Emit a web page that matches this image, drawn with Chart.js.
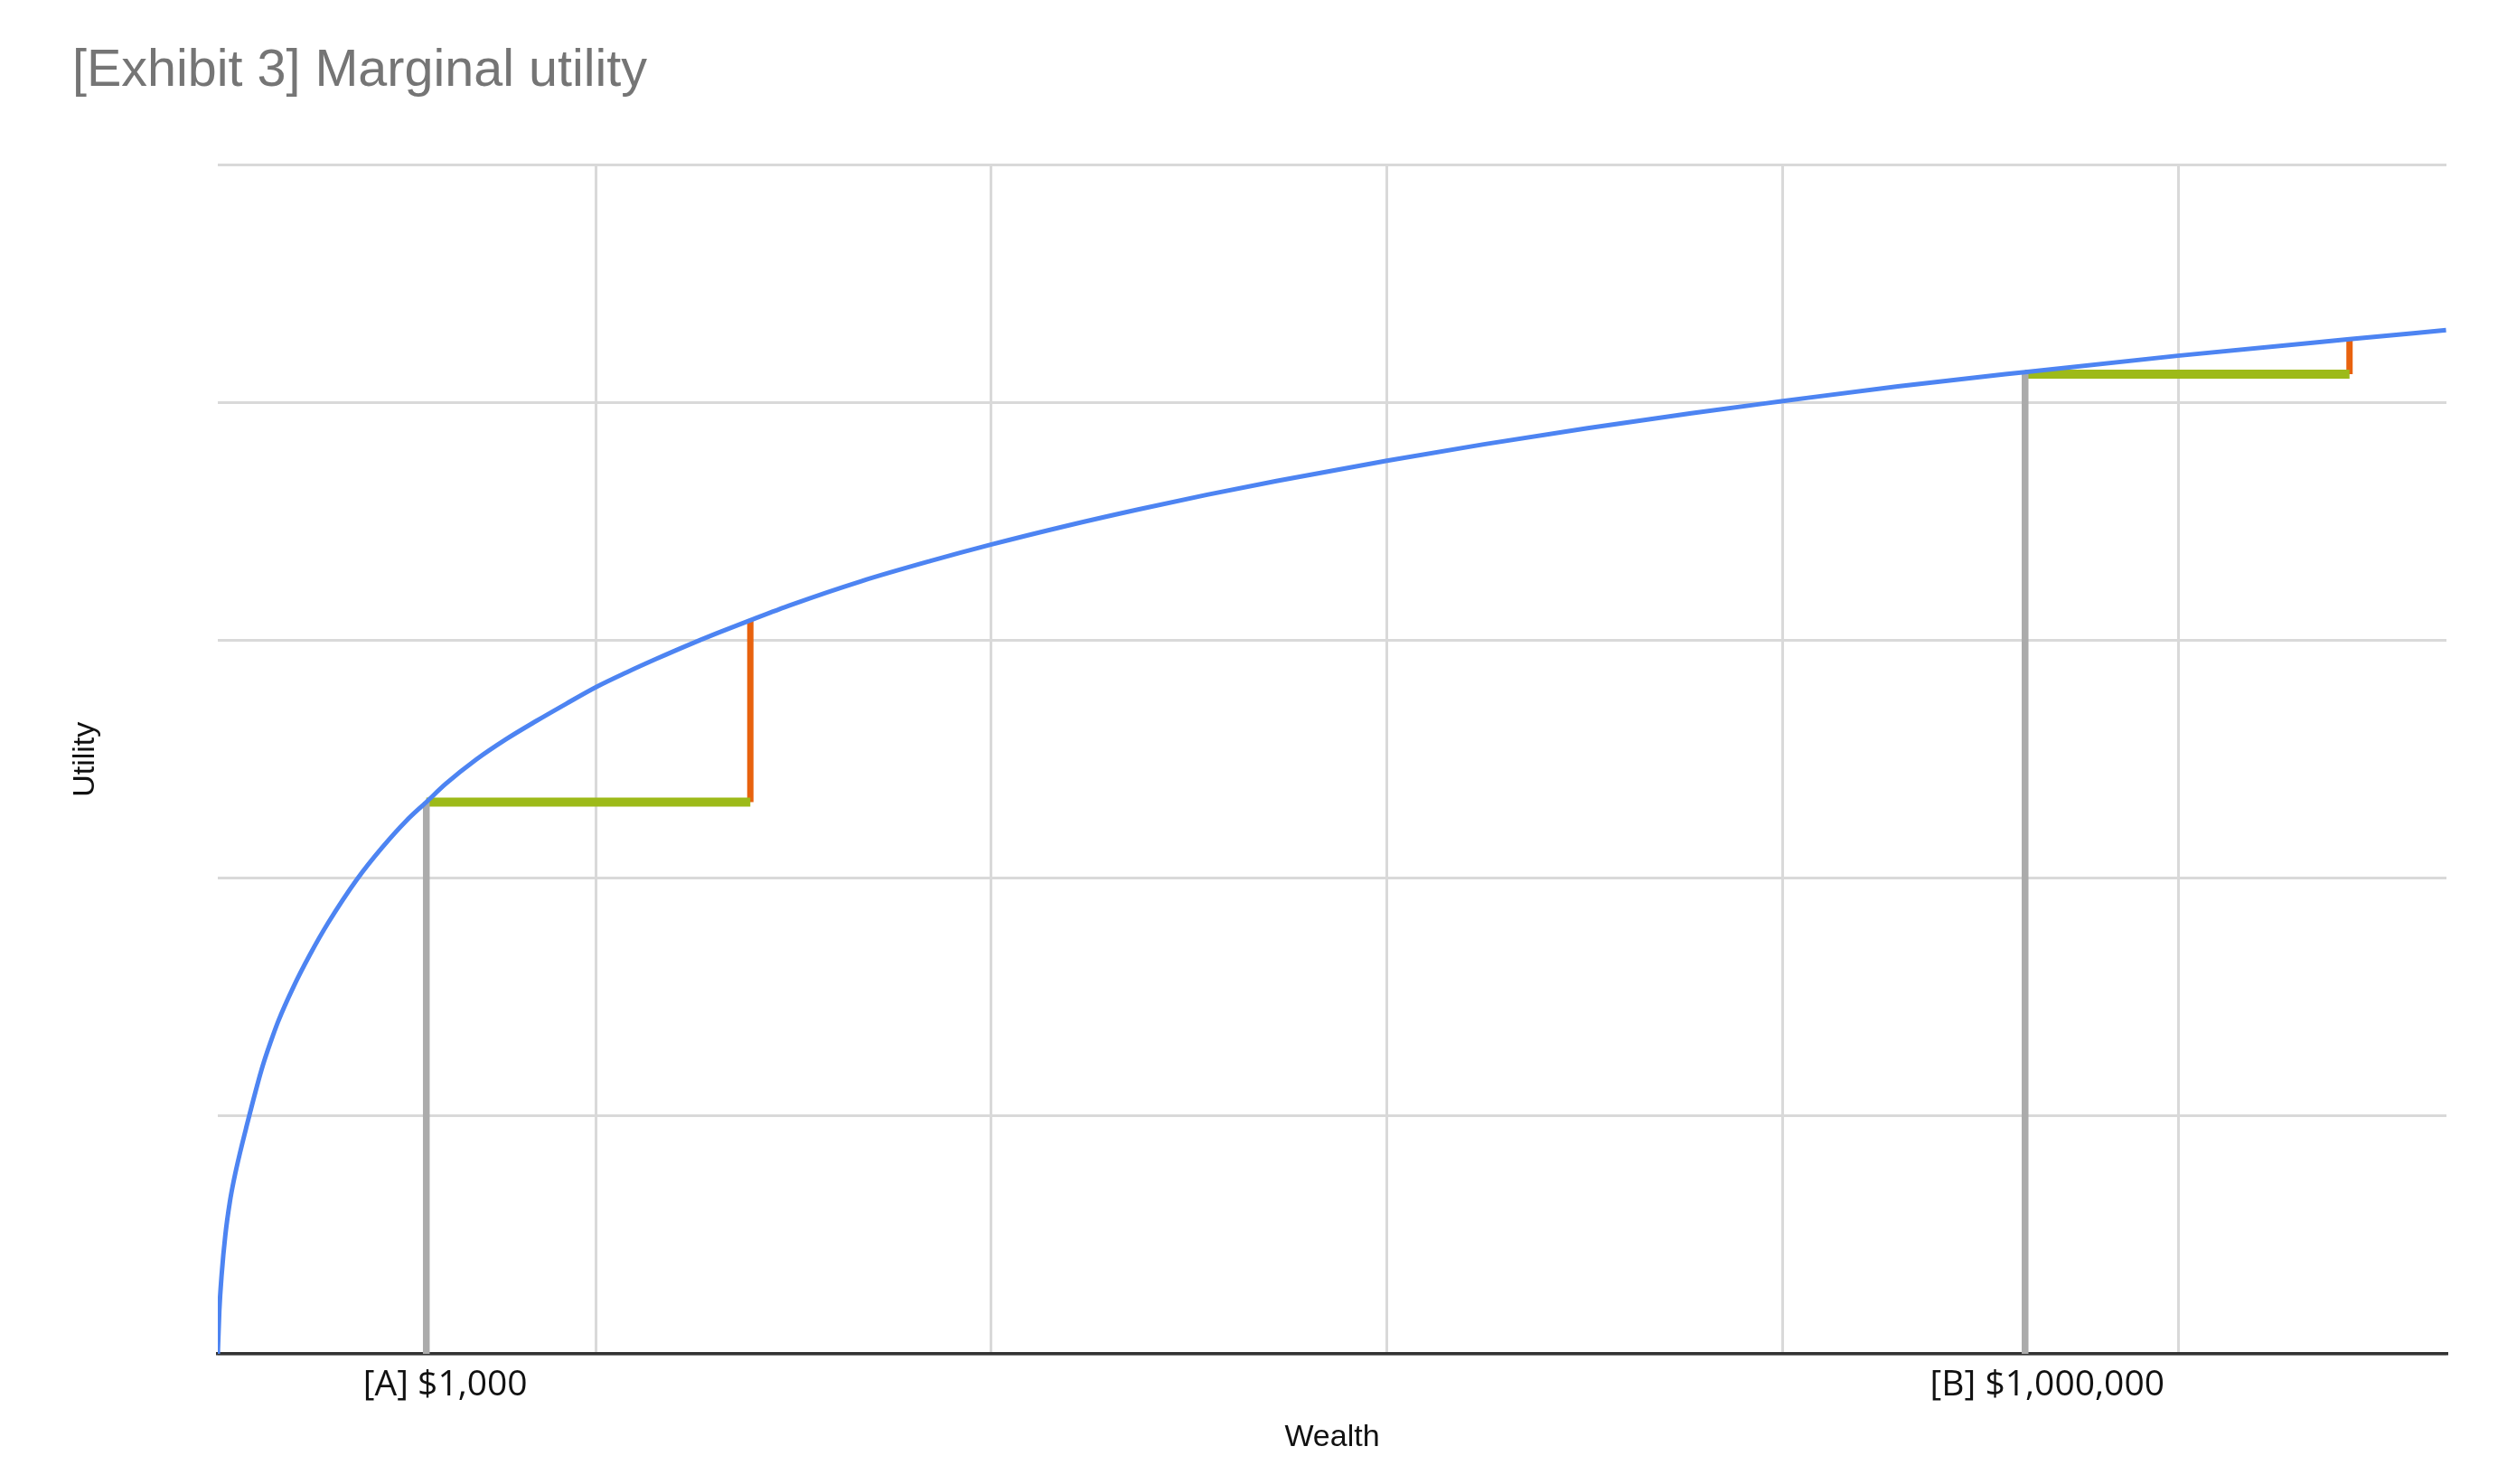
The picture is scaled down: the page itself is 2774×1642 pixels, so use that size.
<!DOCTYPE html>
<html>
<head>
<meta charset="utf-8">
<title>[Exhibit 3] Marginal utility</title>
<script src="https://cdn.jsdelivr.net/npm/chart.js@4.4.1/dist/chart.umd.min.js"></script>
<style>
  html, body { margin: 0; padding: 0; background: #ffffff; }
  canvas { display: block; }
</style>
</head>
<body>
<canvas id="c" width="2774" height="1642"></canvas>
<script>
// ---- Data ----
// Wealth axis in arbitrary index units (10 units between vertical gridlines)
const wealthX = [0, 0.039, 0.098, 0.19, 0.304, 0.418, 0.571, 0.724, 0.989, 1.142, 1.348, 1.524, 1.903, 2.323, 2.78, 3.525, 4.151, 4.758, 5.27, 5.764, 6.527, 7.287, 8.048, 8.811, 9.572, 10.333, 11.095, 11.856, 12.617, 13.455, 14.517, 16.265, 18.015, 19.536, 21.51, 23.26, 25.008, 26.755, 29.553, 32.0, 34.622, 37.245, 39.518, 42.467, 45.679, 49.537, 53.88, 56.32];
const utilityY = [0, 0.365, 0.669, 0.998, 1.277, 1.48, 1.705, 1.91, 2.25, 2.43, 2.635, 2.795, 3.08, 3.354, 3.62, 3.995, 4.258, 4.482, 4.641, 4.795, 4.998, 5.17, 5.323, 5.469, 5.61, 5.732, 5.847, 5.957, 6.061, 6.17, 6.303, 6.499, 6.669, 6.806, 6.969, 7.102, 7.226, 7.341, 7.512, 7.65, 7.786, 7.912, 8.012, 8.138, 8.258, 8.395, 8.534, 8.61];

// Points A ($1,000) and B ($1,000,000)
const markerNames = ['[A] $1,000', '[B] $1,000,000'];
const markerX = [5.27, 45.68];      // wealth at A, B
const markerU = [4.64, 8.24];       // utility at A, B
const stepX = [13.46, 53.88];       // wealth after the same increase
const stepU = [6.17, 8.53];         // utility after the increase

// Axis ticks
const xGridTicks = [9.55, 19.55, 29.55, 39.55, 49.55];
const xLabelTicks = [5.75, 46.24];
const xLabels = markerNames;
const xMin = 0, xMax = 56.33;
const yMin = 0, yMax = 10, yStep = 2;

// ---- Build datasets ----
const curve = wealthX.map((x, i) => ({ x: x, y: utilityY[i] }));
const seg = (x1, y1, x2, y2) => [{ x: x1, y: y1 }, { x: x2, y: y2 }];

const datasets = [
  {
    label: 'Utility',
    data: curve,
    showLine: true,
    borderColor: '#4d84f2',
    borderWidth: 5,
    pointRadius: 0,
    cubicInterpolationMode: 'monotone',
    fill: false
  }
];
markerX.forEach((mx, i) => {
  datasets.push({
    label: 'wealth ' + i,
    data: seg(mx, 0, mx, markerU[i]),
    showLine: true, borderColor: '#ababab', borderWidth: 7.5,
    pointRadius: 0, tension: 0, borderCapStyle: 'butt'
  });
  datasets.push({
    label: 'gain ' + i,
    data: seg(mx, markerU[i], stepX[i], markerU[i]),
    showLine: true, borderColor: '#9dba19', borderWidth: 10,
    pointRadius: 0, tension: 0, borderCapStyle: 'butt'
  });
  datasets.push({
    label: 'utility gain ' + i,
    data: seg(stepX[i], markerU[i], stepX[i], stepU[i]),
    showLine: true, borderColor: '#e8620e', borderWidth: 7,
    pointRadius: 0, tension: 0, borderCapStyle: 'butt'
  });
});

const allXTicks = xGridTicks.concat(xLabelTicks).sort((a, b) => a - b);

new Chart(document.getElementById('c'), {
  type: 'scatter',
  data: { datasets: datasets },
  options: {
    responsive: false,
    devicePixelRatio: 1,
    animation: false,
    layout: { padding: { left: 80, right: 67, top: 0, bottom: 0 } },
    plugins: {
      legend: { display: false },
      tooltip: { enabled: false },
      title: {
        display: true,
        text: '[Exhibit 3] Marginal utility',
        align: 'start',
        color: '#757575',
        font: { family: '"Liberation Sans", Arial, sans-serif', size: 57.5, weight: 'normal', lineHeight: 1.2 },
        padding: { top: 45, bottom: 68.5 }
      }
    },
    scales: {
      x: {
        type: 'linear',
        min: xMin,
        max: xMax,
        afterFit: (s) => { s.height = 144; },
        afterBuildTicks: (s) => { s.ticks = allXTicks.map(v => ({ value: v })); },
        ticks: {
          autoSkip: false,
          maxRotation: 0,
          padding: 11,
          color: '#111111',
          font: { family: '"Open Sans", sans-serif', size: 39 },
          callback: (v) => {
            const k = xLabelTicks.indexOf(v);
            return k >= 0 ? xLabels[k] : '';
          }
        },
        grid: {
          drawTicks: false,
          lineWidth: 3,
          color: (ctx) => (ctx.tick && xGridTicks.indexOf(ctx.tick.value) >= 0) ? '#d9d9d9' : 'rgba(0,0,0,0)'
        },
        border: { display: true, color: '#333333', width: 3.5 },
        title: {
          display: true,
          text: 'Wealth',
          color: '#111111',
          font: { family: '"Liberation Sans", Arial, sans-serif', size: 34, lineHeight: 1.2 },
          padding: { top: 0, bottom: 30.7 }
        }
      },
      y: {
        type: 'linear',
        min: yMin,
        max: yMax,
        afterFit: (s) => { s.width = 161; },
        ticks: { display: false, stepSize: yStep },
        grid: { drawTicks: false, lineWidth: 3, color: '#d9d9d9' },
        border: { display: false },
        title: {
          display: true,
          text: 'Utility',
          color: '#111111',
          font: { family: '"Liberation Sans", Arial, sans-serif', size: 34, lineHeight: 0.8 },
          padding: { top: 0.6, bottom: 0 }
        }
      }
    }
  }
});
</script>
</body>
</html>
